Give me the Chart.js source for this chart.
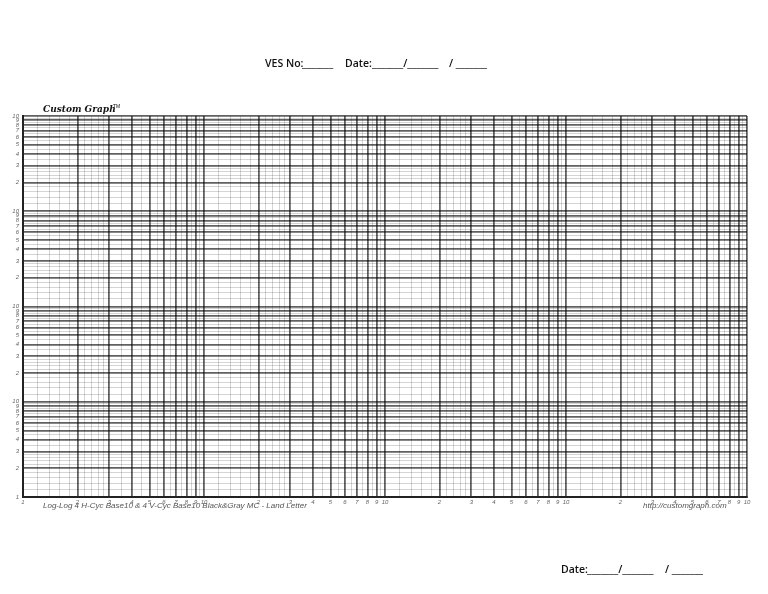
<!DOCTYPE html>
<html>
<head>
<meta charset="utf-8">
<script src="https://cdn.jsdelivr.net/npm/chart.js@4/dist/chart.umd.min.js"></script>
<style>
  html, body { margin: 0; padding: 0; background: #fff; }
  canvas { display: block; }
</style>
</head>
<body>
<canvas id="paper" width="768" height="594"></canvas>
<script>
// log-log paper, 4 cycles each way
var decades = [1, 10, 100, 1000];
var majorSteps = [1, 2, 3, 4, 5, 6, 7, 8, 9];
var minorSteps = [1.2, 1.4, 1.6, 1.8, 2.2, 2.4, 2.6, 2.8, 3.5, 4.5, 5.5, 6.5, 7.5, 8.5, 9.5];
var tickLabels = ['1', '2', '3', '4', '5', '6', '7', '8', '9', '10'];
var axisMin = 1;
var axisMax = 10000;

function buildTicks() {
    var list = [];
    decades.forEach(function (d) {
        majorSteps.forEach(function (m) {
            var lbl = tickLabels[m - 1];
            if (m === 1 && d > 1) lbl = tickLabels[9];
            list.push({ value: m * d, heavy: true, text: lbl });
        });
        minorSteps.forEach(function (m) {
            list.push({ value: m * d, heavy: false, text: '' });
        });
    });
    list.push({ value: axisMax, heavy: true, text: tickLabels[9] });
    list.sort(function (a, b) { return a.value - b.value; });
    return list;
}

function axisOpts(isY) {
    return {
        type: 'logarithmic',
        min: axisMin,
        max: axisMax,
        afterBuildTicks: function (scale) { scale.ticks = buildTicks(); },
        afterFit: function (scale) {
            if (isY) scale.width = 23; else scale.height = 97;
        },
        border: { display: true, color: '#222', width: 2 },
        grid: {
            drawTicks: false,
            color: function (ctx) { return ctx.tick && ctx.tick.heavy ? 'rgba(0,0,0,0.62)' : 'rgba(0,0,0,0.17)'; },
            lineWidth: function (ctx) { return ctx.tick && ctx.tick.heavy ? 1.8 : 1; }
        },
        ticks: {
            autoSkip: false,
            maxRotation: 0,
            padding: isY ? 4 : 2,
            color: '#666',
            font: { family: 'Liberation Sans', size: 6, style: 'italic' },
            callback: function (value, index, ticks) {
                return ticks[index].text;
            }
        }
    };
}

var paperText = {
    id: 'paperText',
    afterDraw: function (chart) {
        var c = chart.ctx;
        c.save();
        c.fillStyle = '#111';
        c.textBaseline = 'middle';
        c.textAlign = 'left';
        c.font = '600 10.5px "Open Sans"';
        c.fillText('VES No:', 265, 64);
        c.fillText('_______', 302, 64);
        c.fillText('Date:', 345, 64);
        c.fillText('_______/_______', 372, 64);
        c.fillText('/ _______', 449, 64);

        c.fillText('Date:', 561, 570);
        c.fillText('_______/_______', 587, 570);
        c.fillText('/ _______', 665, 570);

        c.font = 'italic bold 9px "DejaVu Serif"';
        c.fillText('Custom Graph', 43, 110);
        c.font = '5px "Liberation Sans"';
        c.fillText('TM', 113, 107);

        c.fillStyle = '#555';
        c.font = 'italic 8px "Liberation Sans"';
        c.fillText('Log-Log 4 H-Cyc Base10 & 4 V-Cyc Base10 Black&Gray MC - Land Letter', 43, 506);
        c.fillText('http://customgraph.com', 643, 506);
        c.restore();
    }
};

var ctx = document.getElementById('paper').getContext('2d');
var paperChart = new Chart(ctx, {
    type: 'scatter',
    data: { datasets: [{ data: [] }] },
    options: {
        responsive: false,
        animation: false,
        layout: { padding: { top: 116, right: 21, bottom: 0, left: 0 } },
        plugins: {
            legend: { display: false },
            tooltip: { enabled: false }
        },
        scales: {
            x: axisOpts(false),
            y: axisOpts(true)
        }
    },
    plugins: [paperText]
});
</script>
</body>
</html>
